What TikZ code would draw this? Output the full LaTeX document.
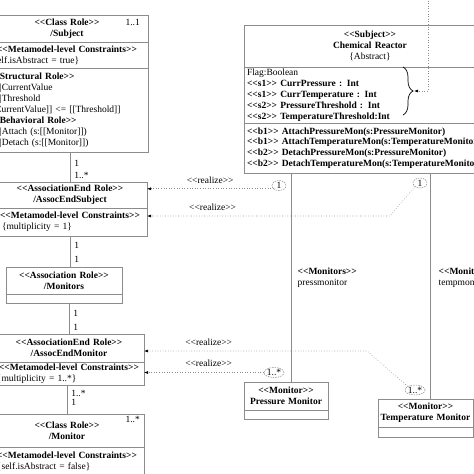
\documentclass[tikz,border=0pt]{standalone}
\usepackage{fontspec}
\setmainfont{Liberation Serif}
\usepackage{tikz}
\usetikzlibrary{positioning, shapes.geometric, arrows.meta, decorations.pathreplacing}
\newcommand{\stereo}[1]{<{}<#1>{}>}
\definecolor{linegray}{gray}{0.55}

\begin{document}
\begin{tikzpicture}[x=1pt, y=-1pt, font=\fontsize{9.5}{11}\selectfont]
        \tikzset{part/.style={draw=linegray, line width=0.7pt, inner xsep=3pt, inner ysep=0pt, outer sep=0pt, anchor=north west},
                 head/.style={part, align=center, font=\fontsize{9.5}{11}\selectfont\bfseries},
                 body/.style={part, align=left},
                 mult/.style={inner sep=2pt},
                 link/.style={draw=linegray, line width=0.7pt},
                 realize/.style={draw=linegray, dotted, line width=0.6pt, -{Latex[length=4pt, width=3pt, color=black]}},
                 tag/.style={ellipse, draw=linegray, dash pattern=on 1.5pt off 1pt, line width=0.5pt, inner sep=0pt, minimum width=14pt, minimum height=10pt}}
        \path[use as bounding box] (0,0) rectangle (474,474);
        \clip (0,0) rectangle (474,474);
        \node[head, text width=156pt, minimum height=27pt] (subj-t) at (-14,15) {\stereo{Class Role}\\/Subject};
        \node[body, text width=156pt, minimum height=26pt] (subj-c) at (subj-t.south west) {{\centering\bfseries\stereo{Metamodel-level Constraints}\par}\{self.isAbstract = true\}};
        \node[body, text width=156pt, minimum height=84pt] (subj-f) at (subj-c.south west) {\textbf{\stereo{Structural Role}}\\\hspace*{11pt}|CurrentValue\\\hspace*{11pt}|Threshold\\{}[[CurrentValue]] <= [[Threshold]]\\\textbf{\stereo{Behavioral Role}}\\\hspace*{11pt}|Attach (s:[[Monitor]])\\\hspace*{11pt}|Detach (s:[[Monitor]])};
        \node[mult, below left=2pt and 6pt of subj-t.north east] {1..1};
        \node[head, text width=148pt, minimum height=26pt] (aes-t) at (-7,182) {\stereo{AssociationEnd Role}\\/AssocEndSubject};
        \node[body, text width=148pt, minimum height=28pt] (aes-c) at (aes-t.south west) {{\centering\bfseries\stereo{Metamodel-level Constraints}\par}\hspace*{6pt}\{multiplicity = 1\}};
        \node[head, text width=110pt, minimum height=27pt] (mon-t) at (6,267) {\stereo{Association Role}\\/Monitors};
        \node[body, text width=110pt, minimum height=9pt] (mon-e) at (mon-t.south west) {};
        \node[head, text width=144pt, minimum height=28pt] (aem-t) at (-6,334) {\stereo{AssociationEnd Role}\\/AssocEndMonitor};
        \node[body, text width=144pt, minimum height=23pt] (aem-c) at (aem-t.south west) {{\centering\bfseries\stereo{Metamodel-level Constraints}\par}\{multiplicity = 1..*\}};
        \node[head, text width=148pt, minimum height=33pt] (mo-t) at (-10,414) {\stereo{Class Role}\\/Monitor};
        \node[body, text width=148pt, minimum height=29pt] (mo-c) at (mo-t.south west) {{\centering\bfseries\stereo{Metamodel-level Constraints}\par}\hspace*{4pt}\{self.isAbstract = false\}};
        \node[mult, below left=0pt and 2pt of mo-t.north east] {1..*};
        \node[head, text width=246pt, minimum height=42pt] (cr-t) at (244,25) {\stereo{Subject}\\Chemical Reactor\\{\normalfont\{Abstract\}}};
        \node[body, text width=246pt, minimum height=56pt] (cr-a) at (cr-t.south west) {Flag:Boolean\\\bfseries\stereo{s1} CurrPressure : Int\\\stereo{s1} CurrTemperature : Int\\\stereo{s2} PressureThreshold : Int\\\stereo{s2} TemperatureThreshold:Int};
        \node[body, text width=246pt, minimum height=50pt, font=\fontsize{9.5}{10.7}\selectfont\bfseries] (cr-o) at (cr-a.south west) {\stereo{b1} AttachPressureMon(s:PressureMonitor)\\\stereo{b1} AttachTemperatureMon(s:TemperatureMonitor)\\\stereo{b2} DetachPressureMon(s:PressureMonitor)\\\stereo{b2} DetachTemperatureMon(s:TemperatureMonitor)};
        \node[head, text width=78pt, minimum height=28pt] (pm-t) at (244,382) {\stereo{Monitor}\\Pressure Monitor};
        \node[body, text width=78pt, minimum height=9pt] (pm-e) at (pm-t.south west) {};
        \node[head, inner xsep=1pt, text width=93pt, minimum height=28pt] (tm-t) at (378,399) {\stereo{Monitor}\\\mbox{Temperature Monitor}};
        \node[body, inner xsep=1pt, text width=93pt, minimum height=10pt] (tm-e) at (tm-t.south west) {};
        \draw[link] (subj-f.south -| aes-t.north) -- (aes-t.north) node[mult, pos=.37, right=2pt] {1} node[mult, pos=.77, right=2pt] {1..*};
        \draw[link] (aes-c.south) -- (aes-c.south |- mon-t.north) node[mult, pos=.29, right=2pt] {1} node[mult, pos=.74, right=2pt] {1};
        \draw[link] (mon-e.south -| aem-t.north) -- (aem-t.north) node[mult, pos=.32, right=2pt] {1} node[mult, pos=.77, right=2pt] {1};
        \draw[link] (aem-c.south -| mo-t.north) -- (mo-t.north) node[mult, pos=.28, right=2pt] {1..*} node[mult, pos=.59, right=2pt] {1};
        \coordinate (pm-in) at ([xshift=5pt]pm-t.north);
        \coordinate (tm-in) at ([xshift=4.5pt]tm-t.north);
        \draw[link] (pm-in |- cr-o.south) -- (pm-in) node[midway, right=3pt, align=left] {\textbf{\stereo{Monitors}}\\pressmonitor};
        \draw[link] (tm-in |- cr-o.south) -- (tm-in) node[pos=.465, right=5pt, align=left] {\textbf{\stereo{Monitors}}\\tempmonitor};
        \node[tag] (e1) at (279,185.5) {1};
        \node[tag] (e2) at (420,183) {1};
        \node[tag] (e3) at (415,390) {1..*};
        \node[tag] (e4) at (274,372.5) {1..*};
        \coordinate (k2) at (390,216);
        \coordinate (k3) at (367,351);
        \draw[realize] (e1.210) -- (e1.210 -| aes-t.east) node[pos=.5, above=2pt] {\stereo{realize}};
        \draw[realize] (e2.south west) -- (k2) -- (k2 -| aes-c.east) node[pos=.73, above=2pt] {\stereo{realize}};
        \draw[realize] (e3.north west) -- (k3) -- (k3 -| aem-t.east) node[pos=.71, above=2pt] {\stereo{realize}};
        \draw[realize] (e4.west) -- (e4.west -| aem-c.east) node[pos=.46, above=2pt] {\stereo{realize}};
        \draw[decorate, decoration={brace, amplitude=10pt}, line width=0.7pt] (403,67) -- (403,115);
        \coordinate (src) at (428,-2);
        \coordinate (btip) at (414,91);
        \draw[realize] (src) |- (btip);
    \end{tikzpicture}
\end{document}
